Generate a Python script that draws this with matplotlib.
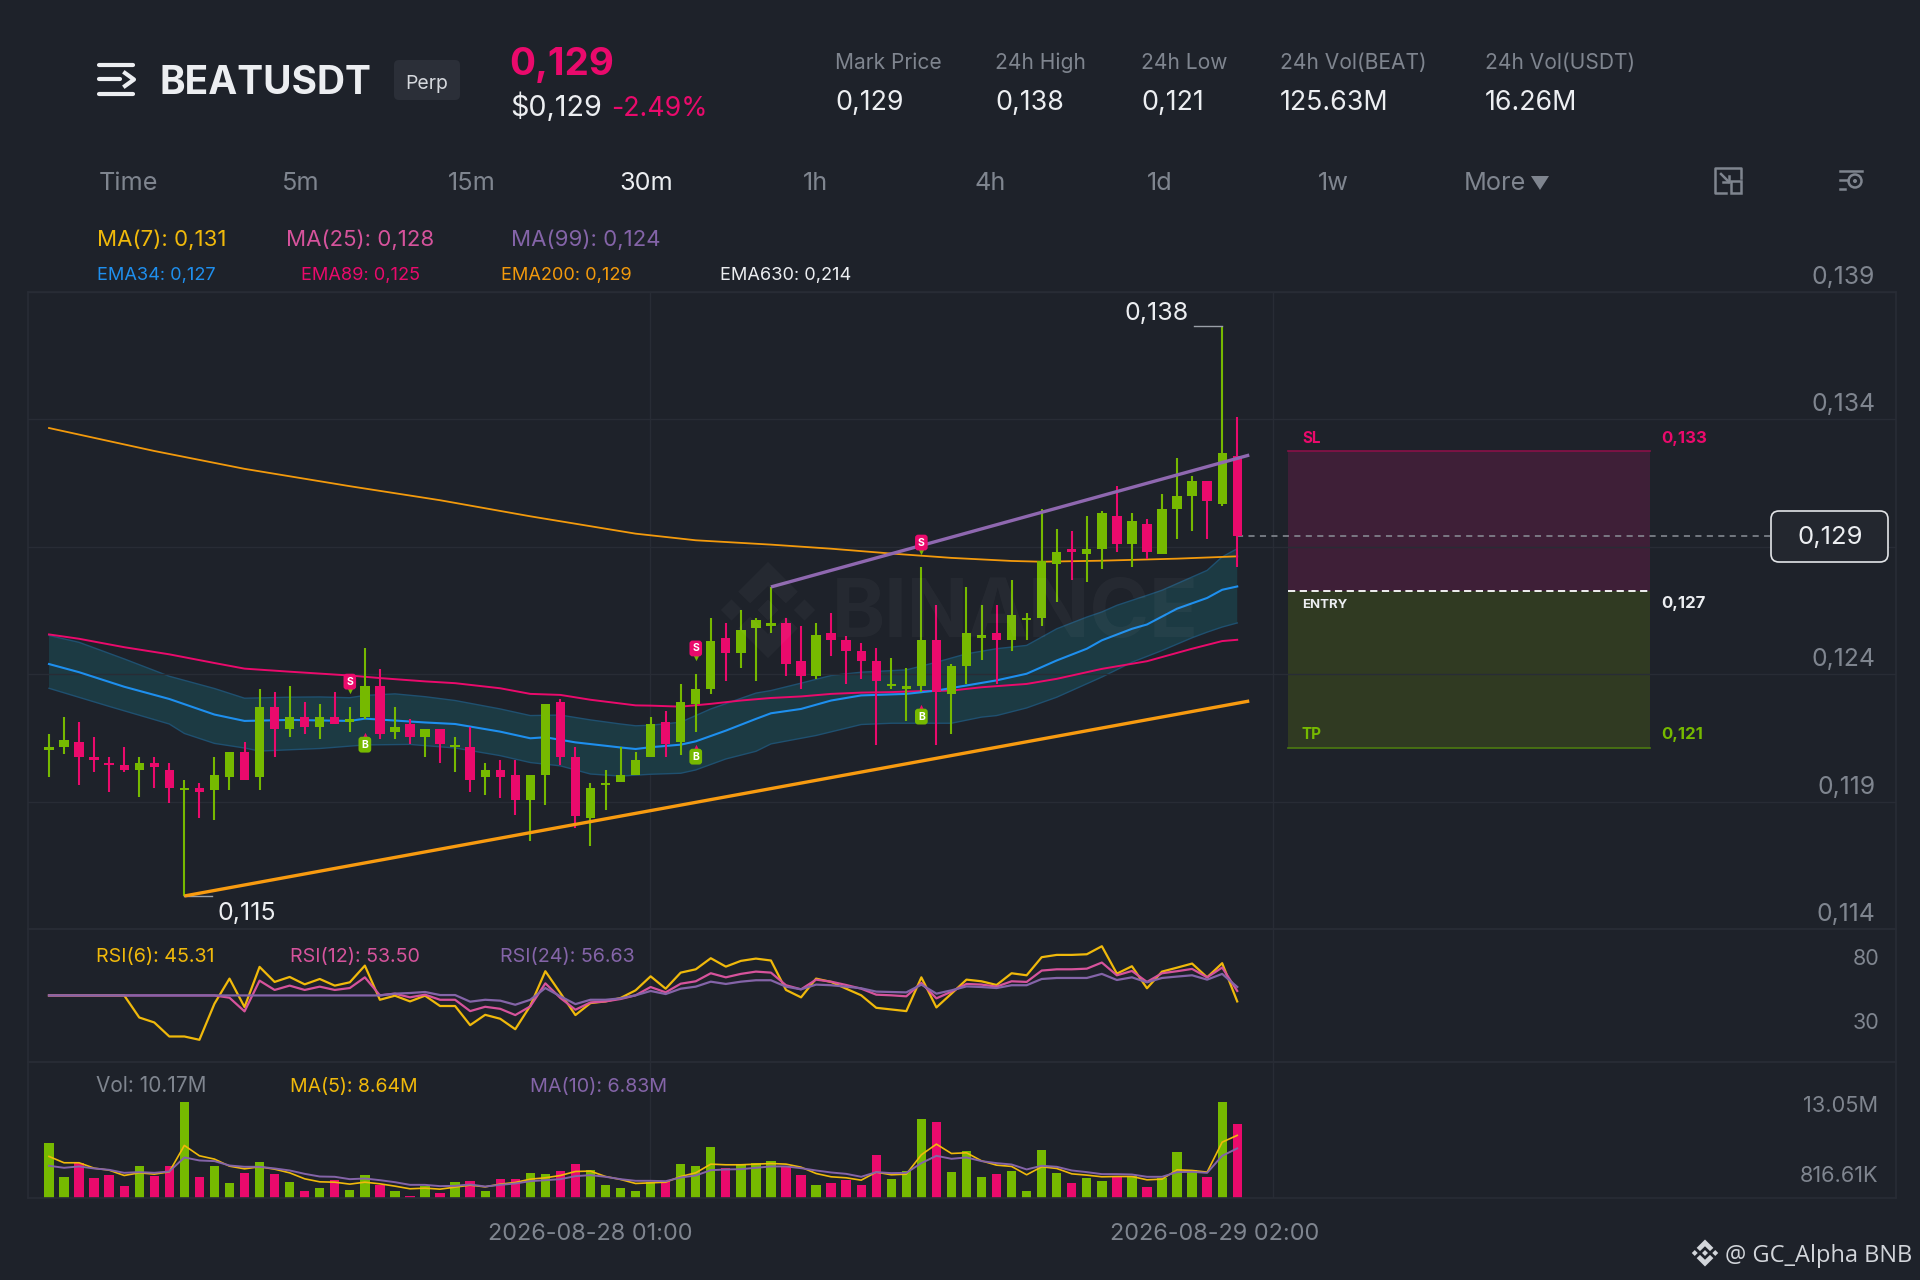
import numpy as np
import matplotlib
matplotlib.use("Agg")
import matplotlib.pyplot as plt
from matplotlib.patches import FancyBboxPatch, Polygon, Rectangle, Circle
from matplotlib.transforms import ScaledTranslation

# candles, prices in 1e-5 units
opens = [12103,12116,12133,12074,12054,12044,12026,12054,12024,11945,
         11955,11946,11996,12094,11996,12273,12184,12234,12194,12234,
         12213,12234,12353,12175,12204,12155,12184,12113,12113,11996,
         12024,12005,11907,12006,12293,12074,11837,11964,11976,12006,
         12074,12213,12135,12283,12343,12542,12482,12582,12591,12602,
         12453,12393,12561,12533,12492,12453,12352,12342,12352,12533,
         12323,12433,12542,12561,12533,12611,12621,12831,12890,12870,
         12890,13019,12909,12989,12870,13048,13098,13158,13069,13257]
highs = [12164,12234,12213,12154,12074,12113,12074,12074,12054,11985,
         11975,12074,12094,12133,12342,12332,12353,12293,12283,12332,
         12273,12502,12421,12273,12223,12184,12184,12154,12194,12054,
         12064,12065,12005,12283,12303,12113,11975,12024,12113,12094,
         12234,12254,12362,12402,12621,12602,12650,12621,12742,12621,
         12591,12602,12641,12551,12522,12502,12462,12423,12820,12670,
         12441,12742,12670,12670,12771,12641,13049,12971,12960,13019,
         13039,13137,13030,13009,13108,13246,13178,13158,13765,13408]
lows = [11996,12086,11967,12015,11937,12015,11917,11956,11897,11531,
        11837,11827,11946,11985,11946,12075,12155,12164,12145,12204,
        12175,12223,12145,12145,12125,12074,12054,12015,11937,11926,
        11916,11848,11748,11887,12045,11798,11727,11867,11976,12005,
        12074,12075,12085,12175,12323,12372,12423,12372,12561,12393,
        12343,12382,12472,12362,12382,12124,12343,12215,12332,12124,
        12164,12362,12454,12362,12493,12533,12591,12683,12771,12761,
        12811,12879,12820,12850,12870,12930,12960,12930,13060,12820]
closes = [12113,12143,12075,12064,12044,12026,12054,12035,11956,11955,
          11937,12005,12094,11985,12273,12184,12234,12194,12234,12204,
          12223,12353,12164,12194,12155,12184,12125,12124,11985,12024,
          11996,11907,12005,12283,12075,11846,11955,11975,12005,12064,
          12204,12126,12293,12343,12531,12482,12572,12611,12602,12442,
          12393,12552,12533,12493,12453,12374,12362,12352,12533,12332,
          12432,12561,12552,12533,12631,12621,12843,12881,12879,12890,
          13030,12909,13000,12879,13048,13098,13158,13079,13268,12941]

# moving averages, read at the candles where the line bends
ema200_x = [0,7,13,20,26,32,39,43,48,52,56,60,64,66,70,75,79]
ema200 = [13365,13275,13205,13137,13082,13019,12951,12925,12908,12892,12873,12856,12844,12841,12845,12853,12862]
ema89_x = [0,2,5,8,11,13,16,20,22,25,27,30,32,34,36,39,40,42,44,46,48,50,52,54,56,58,60,62,65,67,70,73,76,78,79]
ema89 = [12556,12539,12506,12478,12444,12422,12410,12395,12385,12372,12365,12345,12323,12319,12300,12278,12277,
         12273,12284,12297,12307,12313,12323,12328,12330,12334,12336,12349,12362,12382,12421,12451,12500,12530,12535]
ema34_x = [0,2,5,8,11,13,16,20,21,25,27,30,32,33,35,38,39,40,42,43,45,47,48,50,52,54,57,59,61,63,65,67,69,70,72,73,75,77,78,79]
ema34 = [12440,12408,12351,12303,12242,12217,12221,12217,12226,12211,12205,12175,12149,12153,12133,12113,12107,12114,
         12124,12137,12179,12225,12247,12264,12297,12317,12323,12336,12356,12376,12402,12454,12500,12533,12578,12595,12657,12699,12731,12744]
band_up_x = [0,2,5,8,11,13,16,18,20,21,23,25,27,30,32,34,36,38,39,40,42,44,47,48,50,52,54,57,59,61,63,65,67,69,70,71,73,74,76,77,78,79]
band_up = [12552,12525,12460,12392,12344,12306,12310,12311,12308,12317,12323,12312,12297,12264,12238,12240,12221,12205,12198,12200,
           12212,12264,12326,12336,12365,12395,12408,12417,12447,12480,12500,12513,12578,12624,12644,12670,12709,12729,12781,12807,12860,12892]
band_lo_x = [0,4,8,9,11,13,14,18,21,24,27,30,32,34,36,38,40,42,43,45,47,48,51,54,56,60,62,63,65,67,70,72,74,76,77,78,79]
band_lo = [12345,12274,12205,12168,12129,12111,12099,12109,12123,12125,12111,12081,12054,12041,12009,12001,12008,
           12012,12025,12068,12098,12127,12160,12203,12208,12208,12232,12238,12268,12310,12389,12447,12493,12543,12565,12585,12601]

# trend lines and the position box
low_trend_x = [9, 79.8]
low_trend = [11531, 12295]
high_trend_x = [48, 79.8]
high_trend = [12742, 13259]
last_price = 12942
box_x = [82.4, 106.45]
box_sl = 13276
box_entry = 12728
box_tp = 12109
sell_marks = [(20, 12371), (43, 12501), (58, 12916)]
buy_marks = [(21, 12124), (43, 12077), (58, 12234)]

price_ticks = [0.139, 0.134, 0.129, 0.124, 0.119, 0.114]
price_labels = ["0,139", "0,134", "", "0,124", "0,119", "0,114"]

# RSI
rsi6 = [50,50,50,50,50,50,32.7,28.8,17.8,17.8,15.2,43.5,63.2,40.9,72.4,60.6,64.5,58.7,62.9,57.7,
        60.3,73.4,46.6,49.8,45.3,49.8,41.7,41.7,26.7,34.8,31.7,23.5,41.9,69.0,51.9,34.6,44.0,45.3,48.0,54.0,
        65.0,55.3,67.9,70.5,79.2,72.6,77.1,78.9,77.4,54.3,48.5,63.2,60.6,55.3,50.1,40.3,39.0,37.7,64.2,40.6,
        51.4,62.4,61.1,58.2,67.4,65.8,80.0,81.8,81.8,82.3,88.6,67.1,72.9,55.6,68.7,71.8,75.0,64.2,75.3,45.31]
rsi12 = [50,50,50,50,50,50,50,50,50,50,50,50,48.2,37.5,61.6,54.3,57.7,54.3,56.9,54.3,
         55.8,64.2,50.1,51.4,48.5,50.6,46.6,46.6,37.7,41.1,39.5,34.6,41.4,59.5,48.0,38.8,44.5,45.3,47.2,50.1,
         56.6,52.4,59.2,61.1,67.4,64.2,66.9,68.7,67.9,58.0,54.8,62.4,60.8,58.2,55.3,50.6,50.1,49.3,59.8,47.7,
         53.0,59.0,58.5,56.9,61.1,60.6,69.5,70.5,70.5,71.0,75.8,65.8,69.2,60.6,67.4,69.0,70.8,64.2,71.9,53.5]
rsi24 = [50,50,50,50,50,50,50,50,50,50,50,50,50,50,50,50,50,50,50,50,
         50,50,50,51.4,51.9,52.7,50.3,50.3,45.1,46.6,45.9,42.7,46.6,55.8,49.3,43.2,46.6,46.6,47.7,50.1,
         53.5,51.1,55.3,56.9,60.8,59.0,60.8,61.9,61.9,56.9,54.8,58.5,58.0,56.9,55.6,53.0,52.7,52.4,58.5,51.4,
         54.0,57.1,56.6,55.8,58.0,58.0,62.9,63.7,63.7,63.7,66.9,62.1,64.2,60.3,63.7,64.8,65.8,62.4,66.9,56.63]

# volume in millions
volume = [7.56,2.83,4.78,2.74,3.06,1.58,4.41,2.97,4.41,13.27,2.83,4.32,2.00,3.43,4.87,3.29,2.18,0.88,1.30,2.37,
          1.07,3.11,1.76,0.88,0.23,1.62,0.60,2.09,2.27,0.88,2.51,2.60,3.39,3.20,3.71,4.59,3.80,1.76,1.30,0.84,
          2.09,2.23,4.64,4.41,6.96,4.08,4.55,4.78,5.01,4.22,3.16,1.76,2.04,2.41,1.67,5.89,2.55,3.71,10.90,10.49,
          3.53,6.45,2.92,3.20,3.67,0.93,6.64,3.39,1.95,2.78,2.32,3.02,3.02,1.48,2.69,6.31,3.76,2.88,13.27,10.17]
vol_ma5 = [5.71,4.83,4.83,4.08,3.80,3.06,3.43,3.25,3.57,7.24,5.80,5.34,4.36,3.99,4.27,3.94,3.43,2.60,2.18,2.13,
           1.86,2.13,1.90,1.58,1.21,1.30,1.16,1.44,1.72,1.48,1.86,2.09,2.55,2.74,3.06,3.62,3.67,2.92,2.51,1.95,
           2.04,2.13,2.92,3.43,4.64,4.55,4.55,4.64,4.73,4.64,4.22,3.34,2.88,2.74,2.41,3.53,3.16,3.25,5.94,7.42,
           6.12,6.22,5.10,4.50,4.32,3.16,4.27,4.04,3.29,3.11,2.88,2.92,2.92,2.46,2.55,3.85,3.76,3.53,7.70,8.64]
vol_ma10 = [4.41,4.13,4.32,4.04,3.85,3.43,3.53,3.43,3.62,5.57,5.15,5.06,4.45,4.27,4.27,4.04,3.76,3.29,2.92,2.88,
            2.55,2.64,2.41,2.13,1.76,1.76,1.58,1.62,1.81,1.53,1.76,1.95,2.27,2.41,2.55,2.97,3.11,2.88,2.55,2.32,
            2.32,2.27,2.78,3.06,3.80,3.90,3.94,4.13,4.32,4.32,4.08,3.76,3.48,3.29,2.88,3.53,3.39,3.43,4.78,5.80,
            5.38,5.57,5.06,4.78,4.59,3.90,4.41,4.27,3.76,3.53,3.25,3.25,3.20,2.88,2.88,3.53,3.57,3.43,5.80,6.83]

time_ticks = [36, 77.5]
time_labels = ["2026-08-28 01:00", "2026-08-29 02:00"]

BG = "#1e222a"
GRID = "#282c35"
GREEN = "#76b900"
PINK = "#ea0a6c"
MUTED = "#7f858f"
WHITE = "#eceef1"
YELLOW = "#f0b90b"
ORANGE = "#f39a0c"
MAGENTA = "#d6539c"
PURPLE = "#8464a8"
BLUE = "#1e8fee"

plt.rcParams["font.family"] = ["Inter", "DejaVu Sans"]

W, H = 1920, 1280
fig = plt.figure(figsize=(19.2, 12.8), dpi=100, facecolor=BG)


def panel(top, bottom):
    left, right = 28, 1896
    ax = fig.add_axes([left / W, 1 - bottom / H, (right - left) / W, (bottom - top) / H], zorder=1)
    ax.set_facecolor("none")
    ax.set_xlim(-1.396, 122.8)
    for s in ax.spines.values():
        s.set_color(GRID)
        s.set_linewidth(1.2)
    for xg in [39.96, 81.4]:
        ax.axvline(xg, color=GRID, lw=1, zorder=0)
    ax.set_xticks([])
    ax.yaxis.tick_right()
    return ax


def shift_label(label, dy):
    label.set_transform(label.get_transform() + ScaledTranslation(0, dy / 100, fig.dpi_scale_trans))


def binance_logo(ax, cx, cy, r, **kw):
    parts = [
        [(0, -1), (.62, -.38), (.37, -.14), (0, -.5), (-.37, -.14), (-.62, -.38)],
        [(0, 1), (.62, .38), (.37, .14), (0, .5), (-.37, .14), (-.62, .38)],
        [(0, -.22), (.22, 0), (0, .22), (-.22, 0)],
        [(.76, -.22), (.98, 0), (.76, .22), (.54, 0)],
        [(-.76, -.22), (-.54, 0), (-.76, .22), (-.98, 0)],
    ]
    for p in parts:
        ax.add_patch(Polygon([(cx + r * a, cy + r * b) for a, b in p], closed=True, lw=0, **kw))


# main price panel
ax = panel(291.5, 929.4)
ax.set_ylim(0.114, 0.139)
ax.set_yticks(price_ticks, labels=price_labels)
ax.grid(axis="y", color=GRID, lw=1, zorder=0)
ax.tick_params(axis="y", length=0, pad=-15, labelsize=17.8, labelcolor=MUTED)
for lbl in ax.get_yticklabels():
    lbl.set_ha("right")
    lbl.set_va("baseline")
    shift_label(lbl, 8)

idx = np.arange(len(opens))
o, h, l, c = [np.array(v) / 1e5 for v in (opens, highs, lows, closes)]
up = c >= o
colors = np.where(up, GREEN, PINK)

# keltner style band
xs = np.r_[band_up_x, band_lo_x[::-1]]
ys = np.r_[band_up, band_lo[::-1]] / 1e5
ax.fill(xs, ys, color="#1c3a43", lw=0, zorder=1)
ax.plot(band_up_x, np.array(band_up) / 1e5, color="#1f5070", lw=1, zorder=1.5)
ax.plot(band_lo_x, np.array(band_lo) / 1e5, color="#1f5070", lw=1, zorder=1.5)
ax.plot(ema200_x, np.array(ema200) / 1e5, color=ORANGE, lw=1.3, zorder=2)
ax.plot(ema89_x, np.array(ema89) / 1e5, color=PINK, lw=1.4, zorder=2)
ax.plot(ema34_x, np.array(ema34) / 1e5, color=BLUE, lw=1.5, zorder=2)

# position box
ax.fill_between(box_x, box_entry / 1e5, box_sl / 1e5, color="#3e1f37", lw=0, zorder=1)
ax.fill_between(box_x, box_tp / 1e5, box_entry / 1e5, color="#303a22", lw=0, zorder=1)
ax.plot(box_x, [box_sl / 1e5] * 2, color="#8a1048", lw=1.2, zorder=2)
ax.plot(box_x, [box_tp / 1e5] * 2, color="#4c7a10", lw=1.2, zorder=2)
ax.plot(box_x, [box_entry / 1e5] * 2, color="white", lw=1.3, ls=(0, (4, 2.5)), zorder=2)
ax.text(83.3, 0.13305, "SL", color=PINK, fontsize=11, fontweight="bold", va="baseline")
ax.text(83.3, 0.12658, "ENTRY", color=WHITE, fontsize=9.5, fontweight="bold", va="baseline")
ax.text(83.3, 0.12145, "TP", color=GREEN, fontsize=11, fontweight="bold", va="baseline")
ax.text(107.2, 0.13305, "0,133", color=PINK, fontsize=12, fontweight="bold", va="baseline")
ax.text(107.2, 0.12658, "0,127", color=WHITE, fontsize=12, fontweight="bold", va="baseline")
ax.text(107.2, 0.12145, "0,121", color=GREEN, fontsize=12, fontweight="bold", va="baseline")

# last price line
ax.plot([79, 114.4], [last_price / 1e5] * 2, color="#8b9098", lw=1.1, ls=(0, (4, 3.5)), zorder=2)

# candles
ax.vlines(idx, l, h, colors=colors, lw=1.5, zorder=3)
ax.bar(idx, np.abs(c - o), bottom=np.minimum(o, c), width=0.62, color=colors, lw=0, zorder=3)

# trend lines
ax.plot(low_trend_x, np.array(low_trend) / 1e5, color="#f89b10", lw=2.4, zorder=4, solid_capstyle="butt")
ax.plot(high_trend_x, np.array(high_trend) / 1e5, color="#8f68b0", lw=2.4, zorder=4, solid_capstyle="butt")

# high / low callouts
ax.plot([76.15, 78], [highs[78] / 1e5] * 2, color="#9aa0a8", lw=1, zorder=3)
ax.plot([9, 10.85], [lows[9] / 1e5] * 2, color="#9aa0a8", lw=1, zorder=3)
ax.text(75.8, 0.13788, "0,138", color=WHITE, fontsize=18, ha="right", va="baseline")
ax.text(11.17, 0.11437, "0,115", color=WHITE, fontsize=18, va="baseline")

# buy / sell tags
for x, p in sell_marks:
    ax.scatter([x], [(p - 34) / 1e5], marker="v", s=28, color=GREEN, lw=0, zorder=5)
    ax.text(x, p / 1e5, "S", color="white", fontsize=7.5, fontweight="bold", ha="center", va="center", zorder=6,
            bbox=dict(boxstyle="round,pad=0.28,rounding_size=0.3", fc=PINK, ec="none"))
for x, p in buy_marks:
    ax.scatter([x], [(p + 34) / 1e5], marker="^", s=28, color=PINK, lw=0, zorder=5)
    ax.text(x, p / 1e5, "B", color="white", fontsize=7.5, fontweight="bold", ha="center", va="center", zorder=6,
            bbox=dict(boxstyle="round,pad=0.28,rounding_size=0.3", fc=GREEN, ec="none"))

# RSI panel
ax_rsi = panel(929.4, 1061.6)
ax_rsi.set_ylim(-1.9, 101.8)
ax_rsi.set_yticks([80, 30], labels=["80", "30"])
ax_rsi.tick_params(axis="y", length=0, pad=-12, labelsize=15.5, labelcolor=MUTED)
for lbl in ax_rsi.get_yticklabels():
    lbl.set_ha("right")
ax_rsi.plot(idx, rsi6, color=YELLOW, lw=1.6)
ax_rsi.plot(idx, rsi12, color=MAGENTA, lw=1.6)
ax_rsi.plot(idx, rsi24, color=PURPLE, lw=1.6)

# volume panel
ax_vol = panel(1061.6, 1197.5)
ax_vol.set_ylim(0, 18.9)
ax_vol.set_yticks([13.05, 0.81661], labels=["13.05M", "816.61K"])
ax_vol.tick_params(axis="y", length=0, pad=-13, labelsize=15.7, labelcolor=MUTED)
for lbl in ax_vol.get_yticklabels():
    lbl.set_ha("right")
shift_label(ax_vol.get_yticklabels()[1], 18)
ax_vol.bar(idx, volume, width=0.62, color=colors, lw=0, zorder=2)
ax_vol.plot(idx, vol_ma5, color=YELLOW, lw=1.2, zorder=3)
ax_vol.plot(idx, vol_ma10, color=PURPLE, lw=1.4, zorder=3)
ax_vol.set_xticks(time_ticks, labels=time_labels)
ax_vol.tick_params(axis="x", length=0, pad=18, labelsize=16.9, labelcolor=MUTED)

# header and legends, placed in pixels
ov = fig.add_axes([0, 0, 1, 1], zorder=2)
ov.set_xlim(0, W)
ov.set_ylim(H, 0)
ov.axis("off")
ov.patch.set_alpha(0)


def label(x, y, s, size, color, weight="normal", ha="left", family=None):
    kw = {"family": family} if family else {}
    ov.text(x, y, s, fontsize=size, color=color, fontweight=weight, ha=ha, va="baseline", **kw)


# faint watermark
binance_logo(ov, 768, 610, 48, fc="white", alpha=0.035)
ov.text(832, 637, "BINANCE", fontsize=58, fontweight="bold", color="white", alpha=0.035, va="baseline")

# menu icon
for yy, x1 in [(65, 133), (79, 120), (94, 133)]:
    ov.plot([99, x1], [yy, yy], color=WHITE, lw=3, solid_capstyle="round")
ov.plot([125, 134, 125], [73, 79.5, 86], color=WHITE, lw=3)

label(160, 94, "BEATUSDT", 28, WHITE, "bold")
ov.add_patch(FancyBboxPatch((397, 63), 60, 34, boxstyle="round,pad=3,rounding_size=5", fc="#2b2f38", ec="none"))
ov.text(427, 84, "Perp", fontsize=14, color="#d5d8dd", ha="center", va="center")
label(509, 75, "0,129", 27.8, PINK, "bold")
label(510, 116, "$0,129", 20.7, WHITE)
label(611, 116, "-2.49%", 19.3, PINK)

stats = [(835, "Mark Price", "0,129"), (995, "24h High", "0,138"), (1141, "24h Low", "0,121"),
         (1280, "24h Vol(BEAT)", "125.63M"), (1485, "24h Vol(USDT)", "16.26M")]
for x, name, val in stats:
    label(x, 69, name, 15.1, MUTED)
    label(x, 110, val, 19.3, WHITE)

periods = [(99, "Time"), (282, "5m"), (448, "15m"), (803, "1h"), (975, "4h"), (1147, "1d"), (1318, "1w"), (1464, "More")]
for x, s in periods:
    label(x, 190, s, 18.2, MUTED)
label(619, 190, "30m", 18.2, WHITE)
ov.add_patch(Polygon([(1531, 176), (1549, 176), (1540, 190)], closed=True, fc=MUTED, lw=0))

# layout icon
ov.plot([1726, 1715, 1715, 1741, 1741], [193, 193, 168, 168, 178], color=MUTED, lw=1.8)
ov.add_patch(Rectangle((1731, 181), 10, 12, fc="none", ec=MUTED, lw=1.8))
ov.plot([1721, 1729], [174, 182], color=MUTED, lw=1.8)
ov.plot([1729, 1729, 1723], [176, 182, 182], color=MUTED, lw=1.8)
# settings icon
ov.plot([1840, 1862], [171, 171], color=MUTED, lw=1.8)
ov.plot([1840, 1848], [180, 180], color=MUTED, lw=1.8)
ov.plot([1840, 1845], [189, 189], color=MUTED, lw=1.8)
ov.add_patch(Circle((1855, 181), 6.5, fc="none", ec=MUTED, lw=1.8))
ov.add_patch(Circle((1855, 181), 2, fc=MUTED, lw=0))

label(97, 246, "MA(7): 0,131", 16, YELLOW)
label(286, 246, "MA(25): 0,128", 16, MAGENTA)
label(511, 246, "MA(99): 0,124", 16, PURPLE)
label(97, 280, "EMA34: 0,127", 13.1, BLUE)
label(301, 280, "EMA89: 0,125", 13.1, PINK)
label(501, 280, "EMA200: 0,129", 13.1, ORANGE)
label(720, 280, "EMA630: 0,214", 13.1, WHITE)

label(96, 962, "RSI(6): 45.31", 14.2, YELLOW)
label(290, 962, "RSI(12): 53.50", 14.2, MAGENTA)
label(500, 962, "RSI(24): 56.63", 14.2, PURPLE)
label(96, 1092, "Vol: 10.17M", 15, MUTED)
label(290, 1092, "MA(5): 8.64M", 14, YELLOW)
label(530, 1092, "MA(10): 6.83M", 14.2, PURPLE)

# price chip
ov.add_patch(FancyBboxPatch((1777, 517), 105, 39, boxstyle="round,pad=6,rounding_size=8", fc="#23272f", ec="#e3e5e8", lw=1.2))
ov.text(1830, 537, "0,129", fontsize=18.5, color=WHITE, ha="center", va="center")

# footer
binance_logo(ov, 1705, 1253, 13.5, fc="#d2d5da")
label(1725, 1262, "@ GC_Alpha BNB", 17, "#d2d5da", family="Open Sans")

fig.savefig("out.png", dpi=100, facecolor=BG)
